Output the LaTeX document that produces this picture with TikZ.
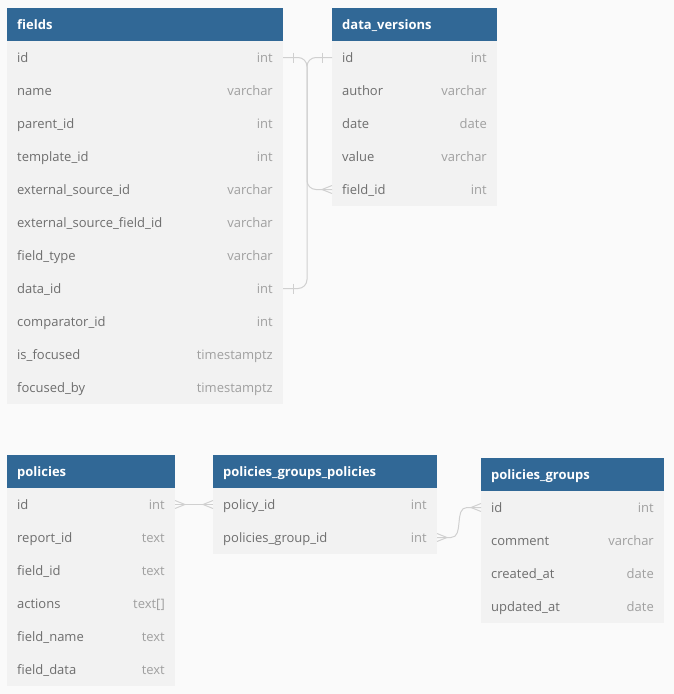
\documentclass[tikz,border=0pt]{standalone}
\usepackage{fontspec}
\setmainfont{Open Sans}
\usetikzlibrary{calc}
\definecolor{headfill}{HTML}{316896}
\definecolor{rowfill}{HTML}{F2F2F2}
\definecolor{pagefill}{HTML}{FAFAFA}
\definecolor{linkgray}{HTML}{D0D0D0}
\definecolor{nametext}{HTML}{6E6E6E}
\definecolor{typetext}{HTML}{A0A0A0}
\tikzset{
  rowtext/.style={inner sep=0pt,text height=12pt,text depth=3pt,font=\fontsize{13}{15}\selectfont},
  headtext/.style={rowtext,anchor=west,text=white,font=\fontsize{13}{15}\selectfont\bfseries},
  nametext/.style={rowtext,anchor=west,text=nametext},
  typetext/.style={rowtext,anchor=east,text=typetext},
  link/.style={draw=linkgray,line width=1pt},
}
% table: name, left, top, width, title, rows
\newcommand{\erdtable}[6]{%
  \fill[headfill] (#2,#3) rectangle ++(#4,33);
  \node[headtext] (#1-head) at ({#2+10},{#3+16.5}) {#5};
  \foreach \f/\t [count=\i] in {#6} {
    \fill[rowfill] (#2,{#3+33*\i}) rectangle ++(#4,33);
    \node[nametext] (#1-\i) at ({#2+10},{#3+33*\i+16.5}) {\f};
    \node[typetext] (#1-\i-type) at ({#2+#4-10},{#3+33*\i+16.5}) {\t};
    \coordinate (#1-\i-l) at (#2,{#3+33*\i+16.5});
    \coordinate (#1-\i-r) at ({#2+#4},{#3+33*\i+16.5});
  }
}
% crow foot at edge point #1, opening towards the table (#2=1 : line leaves to the right)
\newcommand{\crowfoot}[2]{%
  \draw[link] ($(#1)+(#2*10,0)$) -- ($(#1)+(0,4)$);
  \draw[link] ($(#1)+(#2*10,0)$) -- ($(#1)+(0,-4)$);
}
% one-bar at edge point #1
\newcommand{\onebar}[2]{%
  \draw[link] ($(#1)+(#2*10,-5)$) -- ($(#1)+(#2*10,5)$);
}
\begin{document}
\begin{tikzpicture}[x=1pt,y=-1pt]
  \fill[pagefill] (0,0) rectangle (674,694);
  \useasboundingbox (0,0) rectangle (674,694);

  \erdtable{fields}{7}{8}{276}{fields}{id/int, name/varchar, parent\_id/int,
    template\_id/int, external\_source\_id/varchar, external\_source\_field\_id/varchar,
    field\_type/varchar, data\_id/int, comparator\_id/int, is\_focused/timestamptz,
    focused\_by/timestamptz}
  \erdtable{dv}{332}{8}{165}{data\_versions}{id/int, author/varchar, date/date,
    value/varchar, field\_id/int}
  \erdtable{pol}{7}{455}{168}{policies}{id/int, report\_id/text, field\_id/text,
    actions/text[], field\_name/text, field\_data/text}
  \erdtable{pgp}{213}{455}{224}{policies\_groups\_policies}{policy\_id/int,
    policies\_group\_id/int}
  \erdtable{pg}{481}{458}{183}{policies\_groups}{id/int, comment/varchar,
    created\_at/date, updated\_at/date}

  % fields <-> data_versions
  \coordinate (junction) at (307,0);
  \draw[link,rounded corners=9pt] (fields-1-r) -- (fields-1-r -| junction) |- (dv-5-l);
  \draw[link,rounded corners=9pt] (fields-8-r) -- (fields-8-r -| junction) |- (dv-1-l);
  \onebar{fields-1-r}{1}
  \onebar{fields-8-r}{1}
  \onebar{dv-1-l}{-1}
  \crowfoot{dv-5-l}{-1}

  % policies <-> policies_groups_policies
  \draw[link] (pol-1-r) -- (pgp-1-l);
  \crowfoot{pol-1-r}{1}
  \crowfoot{pgp-1-l}{-1}

  % policies_groups_policies <-> policies_groups
  \draw[link] (pgp-2-r) -- ++(14,0) to[out=0,in=180] ($(pg-1-l)+(-14,0)$) -- (pg-1-l);
  \crowfoot{pgp-2-r}{1}
  \crowfoot{pg-1-l}{-1}
\end{tikzpicture}
\end{document}
